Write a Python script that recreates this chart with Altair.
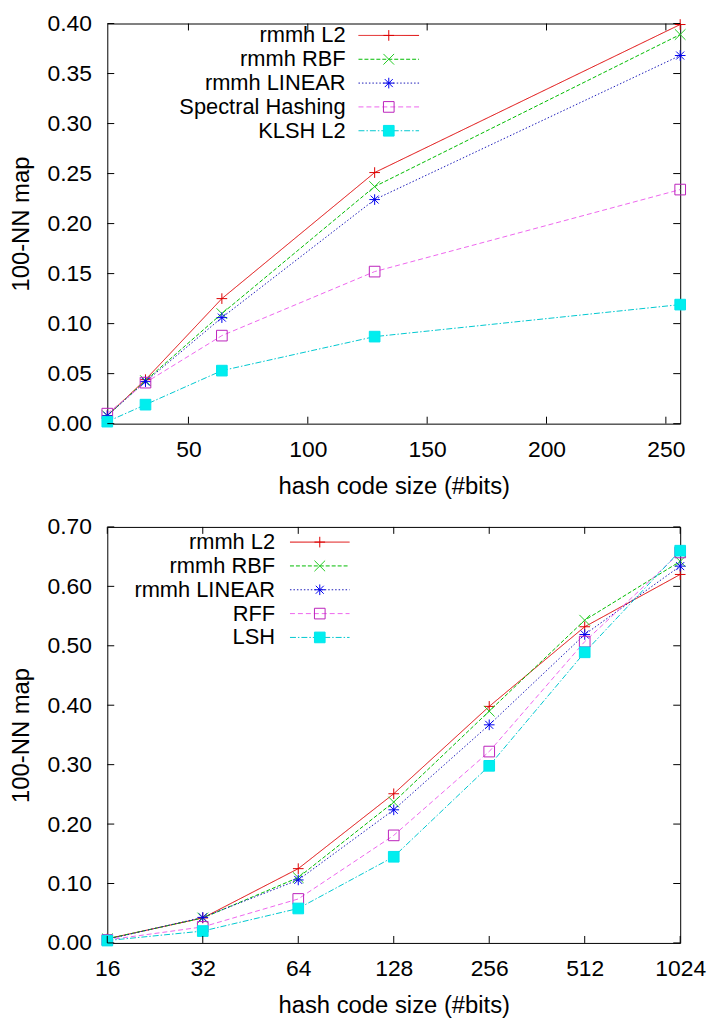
import altair as alt
import pandas as pd

FONT = "Liberation Sans"

# ---------------- data ----------------
top_bits = [16, 32, 64, 128, 256]
top_names = ["rmmh L2", "rmmh RBF", "rmmh LINEAR", "Spectral Hashing", "KLSH L2"]
top_l2 = [0.008, 0.044, 0.125, 0.251, 0.399]
top_rbf = [0.008, 0.043, 0.110, 0.237, 0.389]
top_linear = [0.008, 0.042, 0.106, 0.224, 0.368]
top_sh = [0.010, 0.041, 0.088, 0.152, 0.234]
top_klsh = [0.002, 0.019, 0.053, 0.087, 0.119]

bot_bits = [16, 32, 64, 128, 256, 512, 1024]
bot_names = ["rmmh L2", "rmmh RBF", "rmmh LINEAR", "RFF", "LSH"]
bot_l2 = [0.007, 0.042, 0.125, 0.251, 0.398, 0.532, 0.620]
bot_rbf = [0.007, 0.042, 0.110, 0.237, 0.390, 0.543, 0.642]
bot_linear = [0.006, 0.043, 0.106, 0.224, 0.367, 0.519, 0.634]
bot_rff = [0.005, 0.027, 0.074, 0.181, 0.322, 0.507, 0.657]
bot_lsh = [0.004, 0.020, 0.058, 0.145, 0.298, 0.489, 0.660]

top_xticks = [50, 100, 150, 200, 250]
top_yticks = [0.0, 0.05, 0.10, 0.15, 0.20, 0.25, 0.30, 0.35, 0.40]
bot_xticks = [16, 32, 64, 128, 256, 512, 1024]
bot_yticks = [0.0, 0.10, 0.20, 0.30, 0.40, 0.50, 0.60, 0.70]

# ---------------- styles ----------------
keys = [0, 1, 2, 3, 4]
line_colors = ["#dd0000", "#00bb00", "#1a1ab8", "#ee66ee", "#00c8d0"]
point_strokes = ["#dd0000", "#22cc22", "#0000ee", "#bb22bb", "#00e5ee"]
point_fills = ["transparent", "transparent", "transparent", "transparent", "#00eeee"]
dashes = [[1, 0], [4, 2], [1.5, 2], [5, 3], [6, 2, 1.5, 2]]
shapes = [
    "M-1,0L1,0M0,-1L0,1",
    "M-1,-1L1,1M-1,1L1,-1",
    "M-1,0L1,0M0,-1L0,1M-0.75,-0.75L0.75,0.75M-0.75,0.75L0.75,-0.75",
    "square",
    "square",
]

W = 577
TICK = 7
MSIZE = 115
LFONT = 22

color_enc = alt.Color("k:N", scale=alt.Scale(domain=keys, range=line_colors), legend=None)
dash_enc = alt.StrokeDash("k:N", scale=alt.Scale(domain=keys, range=dashes), legend=None)
stroke_enc = alt.Stroke("k:N", scale=alt.Scale(domain=keys, range=point_strokes), legend=None)
fill_enc = alt.Fill("k:N", scale=alt.Scale(domain=keys, range=point_fills), legend=None)
shape_enc = alt.Shape("k:N", scale=alt.Scale(domain=keys, range=shapes), legend=None)


def panel(bits, names, series, xscale, xticks, yticks, ydomain, H, leg_range, leg_text_x, leg_x0, leg_x1):
    rows = []
    for i, s in enumerate(series):
        for b, v in zip(bits, s):
            rows.append({"bits": b, "map": v, "k": i, "name": names[i]})
    df = pd.DataFrame(rows)

    yscale = alt.Scale(domain=ydomain, nice=False, zero=False)
    x = alt.X("bits:Q", scale=xscale,
              axis=alt.Axis(values=xticks, format="d", title="hash code size (#bits)"))
    y = alt.Y("map:Q", scale=yscale,
              axis=alt.Axis(values=yticks, format=".2f", title="100-NN map"))

    base = alt.Chart(df)
    lines = base.mark_line(strokeWidth=1).encode(
        x=x, y=y, color=color_enc, strokeDash=dash_enc, detail="k:N")
    pts = base.mark_point(size=MSIZE, strokeWidth=1, opacity=1).encode(
        x=x, y=y, stroke=stroke_enc, fill=fill_enc, shape=shape_enc)

    # inward, mirrored tick marks at the axis tick values
    ydf = pd.DataFrame({"map": yticks})
    xdf = pd.DataFrame({"bits": xticks})
    ytl = alt.Chart(ydf).mark_rule(color="black", strokeWidth=1).encode(
        y=y, x=alt.value(0), x2=alt.value(TICK))
    ytr = alt.Chart(ydf).mark_rule(color="black", strokeWidth=1).encode(
        y=y, x=alt.value(W - TICK), x2=alt.value(W))
    xtb = alt.Chart(xdf).mark_rule(color="black", strokeWidth=1).encode(
        x=x, y=alt.value(H - TICK), y2=alt.value(H))
    xtt = alt.Chart(xdf).mark_rule(color="black", strokeWidth=1).encode(
        x=x, y=alt.value(0), y2=alt.value(TICK))

    data_layer = alt.layer(lines, pts, ytl, ytr, xtb, xtt)

    ldf = pd.DataFrame({"k": keys, "name": names})
    ly = alt.Y("k:Q", scale=alt.Scale(domain=[0, 4], range=leg_range), axis=None)
    lbase = alt.Chart(ldf)
    lrule = lbase.mark_rule(strokeWidth=1).encode(
        y=ly, x=alt.value(leg_x0), x2=alt.value(leg_x1), color=color_enc, strokeDash=dash_enc)
    lpt = lbase.mark_point(size=MSIZE, strokeWidth=1, opacity=1).encode(
        y=ly, x=alt.value((leg_x0 + leg_x1) / 2), stroke=stroke_enc, fill=fill_enc, shape=shape_enc)
    ltxt = lbase.mark_text(align="right", baseline="middle", font=FONT, fontSize=LFONT,
                           color="black").encode(y=ly, x=alt.value(leg_text_x), text="name:N")
    legend_layer = alt.layer(lrule, lpt, ltxt)

    return alt.layer(data_layer, legend_layer).resolve_scale(y="independent").properties(
        width=W, height=H)


top = panel(top_bits, top_names, [top_l2, top_rbf, top_linear, top_sh, top_klsh],
            alt.Scale(domain=[16, 256], nice=False, zero=False), top_xticks, top_yticks,
            [0, 0.40], 403, [12, 108], 240, 253, 314)

bottom = panel(bot_bits, bot_names, [bot_l2, bot_rbf, bot_linear, bot_rff, bot_lsh],
               alt.Scale(type="log", base=2, domain=[16, 1024], nice=False), bot_xticks, bot_yticks,
               [0, 0.70], 419, [15.3, 111.3], 169, 184, 244)

chart = alt.vconcat(top, bottom, spacing=16).resolve_scale(
    x="independent", y="independent"
).properties(padding=0).configure_view(
    stroke="black", strokeWidth=1
).configure_axis(
    labelFont=FONT, titleFont=FONT, labelFontSize=23, titleFontSize=24,
    titleFontWeight="normal", labelColor="black", titleColor="black",
    domain=False, ticks=False, tickSize=0, grid=False, labelFlush=False,
).configure_axisX(
    labelPadding=15, titlePadding=13,
).configure_axisY(
    labelPadding=16, titlePadding=14,
)

chart.save("out.html", embed_options={"renderer": "svg", "actions": False})
